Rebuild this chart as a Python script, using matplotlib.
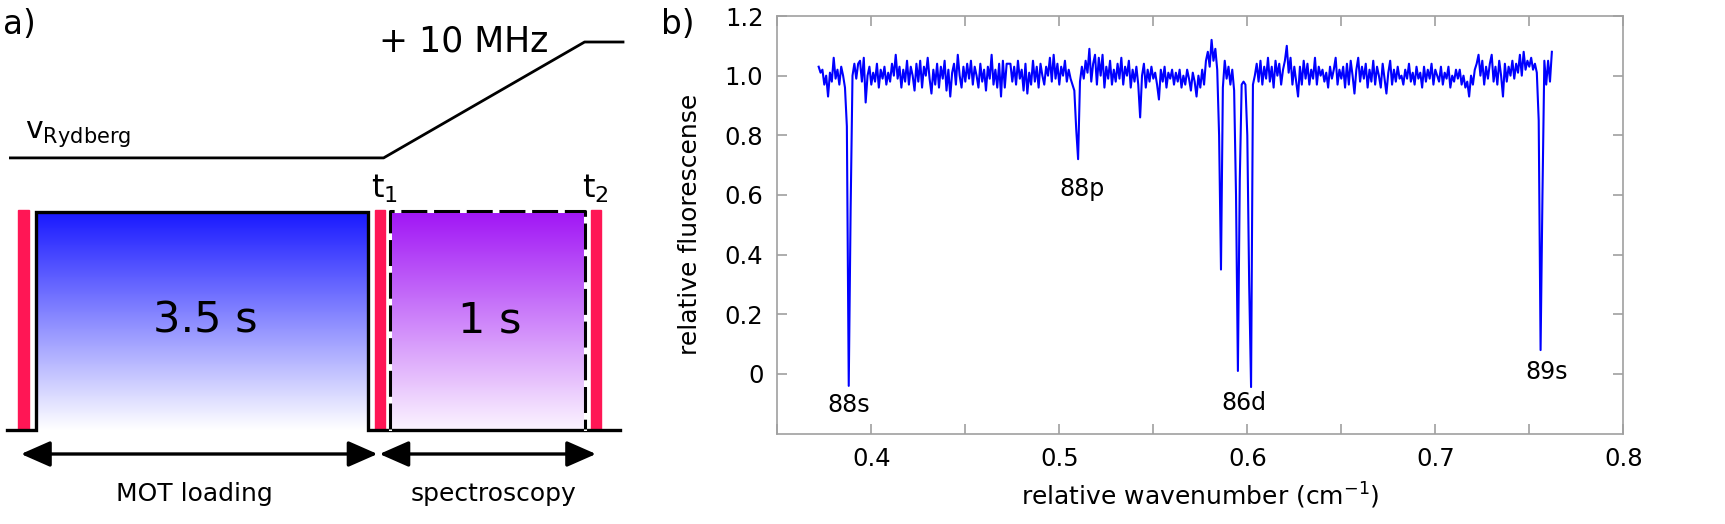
import matplotlib
matplotlib.use("Agg")
import matplotlib.pyplot as plt
import numpy as np
from matplotlib.colors import to_rgb
from matplotlib.patches import Rectangle
from matplotlib.ticker import MultipleLocator

# ---------------- panel b data ----------------
wn_start = 0.372      # first sample, cm^-1
wn_step = 0.001       # sample spacing of the scan
fluorescence = [
    1.03, 1.01, 1.02, 0.97, 1.00, 0.93, 1.01, 0.98, 1.06, 0.99,   # 0.372
    1.02, 0.97, 1.03, 1.00, 0.96, 0.83, -0.04, 0.55, 1.00, 1.04,  # 0.382
    0.99, 1.04, 1.05, 0.98, 1.06, 0.91, 1.00, 1.03, 0.97, 1.01,   # 0.392
    0.98, 1.04, 0.96, 1.02, 0.99, 1.03, 0.97, 1.01, 0.98, 1.04,   # 0.402
    1.00, 1.07, 0.99, 1.03, 0.96, 1.02, 0.98, 1.05, 0.97, 1.03,   # 0.412
    1.00, 0.95, 1.04, 0.98, 1.05, 0.96, 1.03, 1.00, 1.06, 0.99,   # 0.422
    0.94, 1.02, 0.97, 1.04, 0.96, 1.03, 0.99, 1.05, 0.95, 1.02,   # 0.432
    0.93, 1.01, 1.04, 0.97, 1.07, 1.00, 0.96, 1.03, 0.98, 1.04,   # 0.442
    0.99, 1.05, 0.97, 1.03, 1.00, 0.96, 1.04, 0.98, 1.02, 0.95,   # 0.452
    1.03, 0.99, 1.07, 0.97, 1.02, 0.96, 1.04, 0.93, 1.05, 0.96,   # 0.462
    1.04, 1.04, 1.04, 0.98, 1.03, 0.97, 1.05, 0.99, 1.02, 0.95,   # 0.472
    1.04, 0.94, 1.01, 0.97, 1.05, 0.98, 1.03, 0.96, 1.04, 1.00,   # 0.482
    0.97, 1.03, 1.00, 1.06, 0.98, 1.07, 0.99, 1.04, 0.97, 1.03,   # 0.492
    1.00, 1.05, 0.98, 1.02, 0.99, 0.97, 0.95, 0.82, 0.72, 0.98,   # 0.502
    1.03, 0.99, 1.05, 1.01, 1.09, 0.98, 1.04, 1.07, 0.97, 1.06,   # 0.512
    1.00, 1.07, 0.96, 1.03, 0.99, 1.05, 0.97, 1.02, 0.98, 1.04,   # 0.522
    0.99, 1.06, 0.97, 1.03, 1.00, 1.05, 0.96, 1.02, 0.98, 1.03,   # 0.532
    0.97, 0.86, 1.00, 1.04, 0.96, 1.02, 0.98, 1.03, 0.99, 1.01,   # 0.542
    0.97, 0.92, 1.02, 0.98, 1.03, 0.96, 1.01, 0.99, 1.02, 0.97,   # 0.552
    1.01, 0.98, 1.02, 0.96, 1.00, 0.97, 1.02, 0.99, 0.95, 1.01,   # 0.562
    0.98, 0.93, 1.00, 0.96, 1.02, 0.97, 1.05, 1.08, 1.03, 1.12,   # 0.572
    1.05, 1.09, 1.02, 0.80, 0.35, 0.96, 1.05, 0.99, 1.03, 0.97,   # 0.582
    1.02, 0.95, 0.60, 0.01, 0.65, 0.97, 0.98, 0.97, 0.80, 0.30,   # 0.592
    -0.044, 0.97, 1.00, 1.04, 0.98, 1.05, 0.97, 1.03, 0.99, 1.06,  # 0.602
    0.98, 1.03, 0.96, 1.05, 1.00, 1.04, 0.97, 1.02, 1.05, 1.10,   # 0.612
    1.01, 1.06, 0.97, 1.03, 0.98, 0.93, 1.03, 0.97, 1.05, 0.99,   # 0.622
    1.04, 0.97, 1.02, 0.99, 1.06, 0.97, 1.03, 1.00, 1.02, 0.98,   # 0.632
    1.01, 0.96, 1.03, 0.99, 1.02, 1.06, 0.97, 1.02, 0.99, 1.03,   # 0.642
    0.96, 1.04, 0.97, 1.05, 1.00, 0.94, 1.02, 1.06, 0.98, 1.03,   # 0.652
    0.99, 1.04, 0.96, 1.02, 0.98, 1.05, 0.97, 1.03, 1.00, 0.96,   # 0.662
    1.04, 0.99, 0.94, 1.01, 1.05, 0.97, 1.02, 0.98, 1.03, 0.99,   # 0.672
    1.00, 0.97, 1.02, 0.99, 1.04, 0.98, 1.01, 0.97, 1.03, 0.99,   # 0.682
    1.01, 0.96, 1.03, 0.98, 1.02, 0.99, 1.04, 0.97, 1.02, 1.00,   # 0.692
    0.98, 1.03, 0.97, 1.01, 0.99, 1.03, 0.96, 1.00, 0.98, 1.02,   # 0.702
    0.99, 1.02, 0.97, 1.00, 0.96, 0.98, 0.93, 1.00, 0.97, 1.02,   # 0.712
    1.04, 1.07, 1.00, 1.05, 0.97, 1.03, 0.99, 1.04, 1.07, 0.98,   # 0.722
    1.03, 0.97, 1.05, 1.00, 0.93, 1.04, 0.98, 1.03, 1.00, 1.05,   # 0.732
    0.99, 1.04, 1.01, 1.07, 1.00, 1.08, 1.02, 1.05, 1.03, 1.06,   # 0.742
    1.02, 1.04, 1.01, 0.85, 0.08, 0.60, 1.05, 0.97, 1.05, 0.98,   # 0.752
    1.08,                                                         # 0.762
]

peak_names = ['88s', '88p', '86d', '89s']
peak_label_x = [0.388, 0.512, 0.598, 0.759]
peak_label_y = [-0.105, 0.62, -0.098, 0.006]

x_ticks = [0.4, 0.5, 0.6, 0.7, 0.8]
y_ticks = [0, 0.2, 0.4, 0.6, 0.8, 1.0, 1.2]
y_tick_labels = ['0', '0.2', '0.4', '0.6', '0.8', '1.0', '1.2']

# ---------------- panel a: timing sequence ----------------
phase_names = ['MOT loading', 'spectroscopy']
phase_durations = ['3.5 s', '1 s']
detuning_text = '+ 10 MHz'

W, H = 1725, 524
fig = plt.figure(figsize=(W / 100, H / 100), dpi=100)

# panel a is drawn in pixel units of the left part of the figure
axa = fig.add_axes([0, 0, 640 / W, 1])
axa.set_xlim(0, 640)
axa.set_ylim(H, 0)
axa.axis('off')

red = '#ff1655'


def gradient_box(ax, x0, x1, y_top, y_bot, top_color, bot_color):
    ramp = np.linspace(0, 1, 256)[:, None, None]
    img = np.array(to_rgb(top_color)) * (1 - ramp) + np.array(to_rgb(bot_color)) * ramp
    ax.imshow(img, extent=(x0, x1, y_bot, y_top), aspect='auto',
              interpolation='bilinear', zorder=1)


# frequency ramp of the Rydberg laser
axa.plot([9, 383.6, 584.6, 624.4], [157.9, 157.9, 42, 42], color='k', lw=2.0,
         solid_capstyle='butt', zorder=3)

# MOT loading (blue) and spectroscopy (violet) windows
gradient_box(axa, 36, 368.4, 211.6, 430, '#1818ff', '#ffffff')
gradient_box(axa, 389.7, 584.6, 210.5, 429, '#a014f5', '#fbf3ff')
axa.plot([7, 36, 36, 368.4, 368.4, 619.5], [430, 430, 211.6, 211.6, 430, 430],
         color='k', lw=2.4, solid_joinstyle='miter', zorder=4)
box_x = [389.7, 389.7, 584.6, 584.6]
box_y = [429, 210.5, 210.5, 429]
axa.plot(box_x, box_y, color='white', lw=2.2, zorder=4)
axa.plot(box_x, box_y, color='k', lw=2.2, linestyle=(0, (8.5, 2.2)), zorder=5)

for x0, x1 in [(17.6, 28.7), (374.6, 384.8), (590.8, 601.0)]:
    axa.add_patch(Rectangle((x0, 210), x1 - x0, 220, color=red, zorder=3))

axa.set_xlim(0, 640)
axa.set_ylim(H, 0)

# phase arrows
for xa, xb in [(21, 377.5), (379.5, 596)]:
    axa.annotate('', xy=(xa, 454), xytext=(xb, 454),
                 arrowprops=dict(arrowstyle='<|-|>,head_length=0.5,head_width=0.22',
                                 color='k', lw=2.4, mutation_scale=36,
                                 shrinkA=0, shrinkB=0))

axa.text(3, 24, 'a)', fontsize=23.5, ha='left', va='center')
axa.text(463.6, 52, detuning_text, fontsize=25, ha='center', va='baseline')
axa.text(24.6, 137.7, r'v$_{\mathrm{Rydberg}}$', fontsize=21.5, ha='left', va='baseline')
axa.text(371, 198, r'$\mathrm{t}_1$', fontsize=23, ha='left', va='baseline')
axa.text(582, 198, r'$\mathrm{t}_2$', fontsize=23, ha='left', va='baseline')
axa.text(205, 332.6, phase_durations[0], fontsize=31, ha='center', va='baseline')
axa.text(490, 332.6, phase_durations[1], fontsize=31, ha='center', va='baseline')
axa.text(194, 500.5, phase_names[0], fontsize=18, ha='center', va='baseline')
axa.text(493, 500.5, phase_names[1], fontsize=18, ha='center', va='baseline')

# ---------------- panel b ----------------
axb = fig.add_axes([777.3 / W, 1 - 433.6 / H, 846 / W, 417.6 / H])
wavenumber = wn_start + wn_step * np.arange(len(fluorescence))
axb.plot(wavenumber, fluorescence, color='#0000ff', lw=1.5)
axb.set_xlim(0.35, 0.8)
axb.set_ylim(-0.2, 1.2)
axb.set_xticks(x_ticks)
axb.xaxis.set_minor_locator(MultipleLocator(0.05))
axb.set_yticks(y_ticks, y_tick_labels)

grey = '#a0a0a0'
for s in axb.spines.values():
    s.set_color(grey)
    s.set_linewidth(1.2)
axb.tick_params(which='both', direction='in', top=True, right=True, color=grey,
                length=7, width=1.2, labelsize=17.5, pad=10)

for name, px, py in zip(peak_names, peak_label_x, peak_label_y):
    axb.text(px, py, name, fontsize=17, ha='center', va='center')

axb.set_xlabel('relative wavenumber (cm$^{-1}$)', fontsize=18, labelpad=7)
axb.set_ylabel('relative fluorescense', fontsize=18, labelpad=16)
fig.text(661 / W, 1 - 24 / H, 'b)', fontsize=23.5, ha='left', va='center')

fig.savefig('out.png', dpi=100)
